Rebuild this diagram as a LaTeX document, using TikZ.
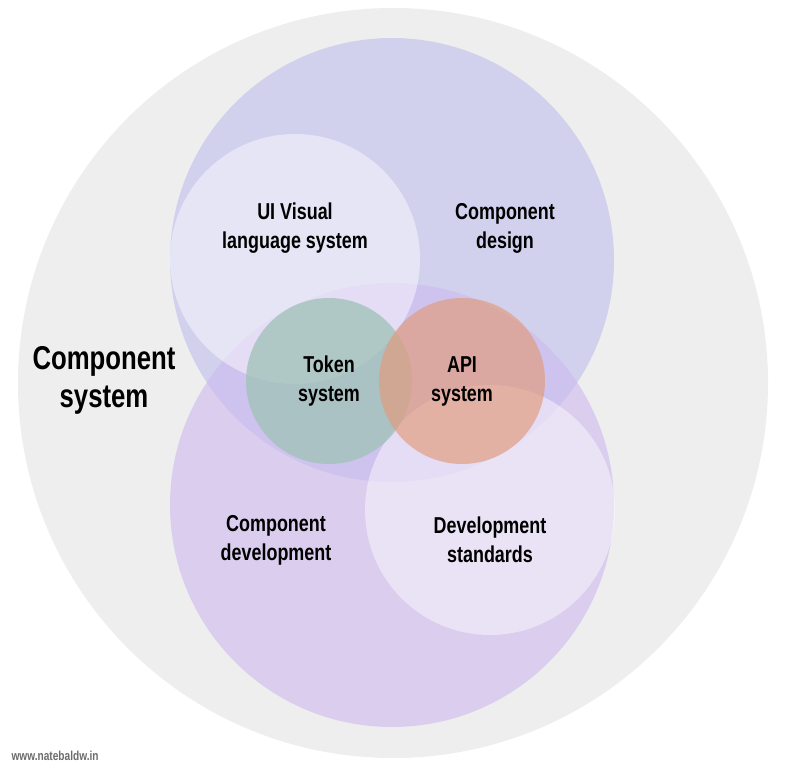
\documentclass[tikz,border=0pt]{standalone}
\usepackage{fontspec}
\setmainfont{Liberation Sans}[FakeStretch=0.78]
\definecolor{outerg}{HTML}{EEEEEE}
\definecolor{topb}{HTML}{C8C8EE}
\definecolor{botp}{HTML}{CDB8EE}
\definecolor{tokc}{HTML}{9FC2B6}
\definecolor{apic}{HTML}{E39A78}
\begin{document}
\begin{tikzpicture}[x=1pt,y=-1pt,
 lbl/.style={font=\bfseries\fontsize{23}{29}\selectfont, align=center, text=black}]
\useasboundingbox (0,0) rectangle (786,770);
\fill[white] (0,0) rectangle (786,770);
\fill[outerg] (393,383) circle (375);
\fill[topb, opacity=0.75] (392,260) circle (222);
\fill[botp, opacity=0.6] (392,505) circle (222);
\fill[white, opacity=0.45] (295,259) circle (125);
\fill[white, opacity=0.45] (490,510) circle (125);
\fill[tokc, opacity=0.75] (329,381) circle (83);
\fill[apic, opacity=0.65] (462,381) circle (83);
\node[lbl] (ui) at (295,228) {UI Visual\\language system};
\node[lbl] (cd) at (505,228) {Component\\design};
\node[lbl] (tk) at (329,381) {Token\\system};
\node[lbl] (api) at (462,381) {API\\system};
\node[lbl] (cdev) at (276,540) {Component\\development};
\node[lbl] (ds) at (490,540) {Development\\standards};
\node[lbl, font=\bfseries\fontsize{33}{38}\selectfont] (cs) at (104,380) {Component\\system};
\node[font=\bfseries\fontsize{13}{15}\selectfont, text=gray!85!black, anchor=west] (url) at (8,756) {www.natebaldw.in};
\end{tikzpicture}
\end{document}
